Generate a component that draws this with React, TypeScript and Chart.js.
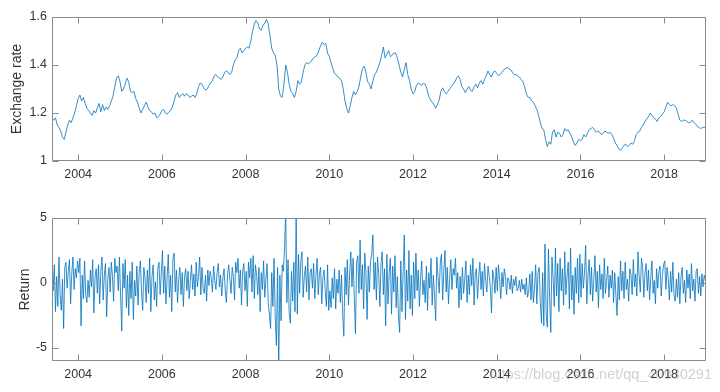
import { useEffect, useRef } from "react";
import { Chart, registerables } from "chart.js";

Chart.register(...registerables);

// ---------- data ----------
const X_MIN = 2003.375;
const X_MAX = 2019.0;

// Exchange rate, two readings per month from mid-May 2003 to end 2018
const RATE_START = 2003.375;
const RATE_STEP = 1 / 24;
const exchangeRate = [
  1.18, 1.17, 1.18, 1.15, 1.14, 1.125, 1.1, 1.09, 1.12, 1.15, 1.17, 1.16, 1.18, 1.2, 1.23,
  1.26, 1.275, 1.25, 1.265, 1.24, 1.22, 1.21, 1.2, 1.19, 1.21, 1.2, 1.22, 1.24, 1.205, 1.235, 1.21, 1.225, 1.215, 1.23, 1.25, 1.27, 1.31, 1.345, 1.355,
  1.33, 1.29, 1.3, 1.32, 1.345, 1.33, 1.29, 1.285, 1.29, 1.26, 1.245, 1.22, 1.2, 1.215, 1.23, 1.245, 1.225, 1.21, 1.205, 1.195, 1.2, 1.18, 1.185, 1.195,
  1.21, 1.215, 1.2, 1.195, 1.205, 1.21, 1.225, 1.25, 1.275, 1.285, 1.265, 1.275, 1.28, 1.27, 1.28, 1.275, 1.265, 1.27, 1.275, 1.265, 1.28, 1.31, 1.325, 1.32,
  1.305, 1.295, 1.3, 1.315, 1.325, 1.335, 1.355, 1.36, 1.35, 1.345, 1.34, 1.35, 1.37, 1.375, 1.37, 1.36, 1.37, 1.4, 1.42, 1.43, 1.46, 1.47, 1.45, 1.46,
  1.47, 1.475, 1.47, 1.5, 1.54, 1.57, 1.585, 1.575, 1.55, 1.545, 1.565, 1.575, 1.59, 1.57, 1.52, 1.47, 1.45, 1.44, 1.4, 1.3, 1.27, 1.265, 1.32, 1.4,
  1.37, 1.32, 1.29, 1.28, 1.265, 1.29, 1.335, 1.32, 1.33, 1.37, 1.4, 1.41, 1.405, 1.41, 1.42, 1.43, 1.435, 1.44, 1.46, 1.48, 1.495, 1.485, 1.49, 1.45,
  1.435, 1.41, 1.385, 1.365, 1.36, 1.35, 1.345, 1.335, 1.3, 1.25, 1.22, 1.2, 1.23, 1.265, 1.29, 1.275, 1.29, 1.31, 1.35, 1.385, 1.395, 1.37, 1.33, 1.32,
  1.3, 1.335, 1.36, 1.37, 1.39, 1.41, 1.44, 1.475, 1.43, 1.445, 1.46, 1.435, 1.44, 1.45, 1.45, 1.43, 1.4, 1.37, 1.35, 1.38, 1.41, 1.36, 1.335, 1.3,
  1.28, 1.29, 1.315, 1.325, 1.32, 1.315, 1.325, 1.32, 1.3, 1.27, 1.255, 1.245, 1.235, 1.22, 1.235, 1.255, 1.29, 1.305, 1.29, 1.28, 1.29, 1.3, 1.31, 1.32,
  1.33, 1.345, 1.355, 1.34, 1.31, 1.3, 1.285, 1.3, 1.31, 1.295, 1.29, 1.31, 1.32, 1.305, 1.325, 1.335, 1.32, 1.34, 1.355, 1.375, 1.36, 1.35, 1.37, 1.375,
  1.365, 1.355, 1.36, 1.37, 1.38, 1.385, 1.39, 1.385, 1.38, 1.37, 1.36, 1.36, 1.355, 1.35, 1.34, 1.33, 1.31, 1.28, 1.265, 1.265, 1.25, 1.245, 1.23, 1.215,
  1.19, 1.16, 1.135, 1.13, 1.09, 1.06, 1.08, 1.07, 1.12, 1.13, 1.1, 1.12, 1.115, 1.1, 1.11, 1.135, 1.125, 1.13, 1.115, 1.1, 1.08, 1.065, 1.075, 1.09,
  1.085, 1.09, 1.11, 1.1, 1.115, 1.13, 1.135, 1.14, 1.13, 1.12, 1.125, 1.12, 1.11, 1.115, 1.125, 1.12, 1.115, 1.12, 1.11, 1.095, 1.075, 1.065, 1.05, 1.045,
  1.055, 1.065, 1.07, 1.06, 1.065, 1.075, 1.07, 1.085, 1.11, 1.12, 1.125, 1.14, 1.15, 1.165, 1.175, 1.185, 1.2, 1.19, 1.18, 1.175, 1.165, 1.18, 1.185, 1.195,
  1.205, 1.225, 1.245, 1.235, 1.23, 1.235, 1.23, 1.22, 1.195, 1.17, 1.165, 1.17, 1.17, 1.165, 1.16, 1.16, 1.17, 1.16, 1.155, 1.145, 1.14, 1.135, 1.14, 1.14, 1.142,
];

// Return, 36 readings per year from mid-May 2003 to end 2018
const RETURN_START = 2003.375;
const RETURN_STEP = 1 / 36;
const returns = [
  2.1, -0.6, 1.4, -2.2, 0.5, -1.8, 2.0, -0.9, -2.1, 0.3, -3.5, 1.2, 1.6, -0.4, 0.9, 1.8, -1.6, 0.7, 2.0, -0.5, 1.1, 0.4, 1.7,
  0.8, 1.9, -3.3, 0.6, -1.2, 1.7, -0.9, -1.5, 0.2, -1.1, 1.0, -0.3, 1.8, -2.3, 0.4, 1.1, -0.8, 1.4, -1.6, 0.9, 2.0, -1.3, 0.6, 1.5, -2.6, 0.3, 1.2, -0.7, 1.6, 0.5, -1.4, 1.9, 0.8, 1.3, -0.6, 2.0,
  -1.0, -3.7, 1.5, -0.4, 1.8, -1.9, 0.6, -2.5, 0.9, -1.2, 1.6, -2.8, 0.2, -1.0, 1.3, -1.7, 0.8, 1.7, -0.6, -2.1, 1.2, 0.4, -1.5, 1.0, -0.8, 1.9, -2.2, 0.5, 1.4, -1.3, 0.1, -1.8, 1.1, 1.6, -0.9, 0.7,
  2.5, -0.8, 1.3, -1.6, 0.4, 2.2, -1.1, 0.6, -2.2, 1.8, 2.3, -0.7, 1.0, -1.5, 0.3, 1.2, -0.9, 0.8, -1.8, 0.5, 1.1, -0.6, 0.9, -1.2, 0.2, 1.4, -0.5, 0.7, -1.0, 1.6, -0.3, 0.5, 2.0, -0.9, 1.2, -0.4,
  -0.8, 0.6, -1.4, 1.0, -0.2, 0.9, 0.4, -0.7, 1.3, 0.2, -0.5, 0.8, 1.5, -0.3, 0.6, -1.0, 0.4, 1.1, -0.6, -1.5, 0.7, 1.4, 0.3, -0.8, 1.2, 0.5, -1.3, 1.6, 0.8, 1.9, -0.4, 1.0, -1.7, 0.9, 1.5, -0.6,
  0.9, -1.8, 1.6, 0.4, 1.9, -0.7, 2.1, -1.2, 1.4, 0.6, -0.9, 1.2, -2.2, 0.8, -0.5, 1.7, -1.1, 0.3, 1.5, -1.6, -2.4, -3.5, 0.8, -1.8, 1.9, -2.6, -4.8, 1.2, -6.8, 0.6, -2.9, 1.4, 0.9, 2.6, 5.6, -1.5,
  1.8, -2.3, -3.1, 0.9, -1.4, 1.6, -2.2, 5.4, -2.4, 2.2, -0.8, 1.7, 2.4, -1.1, 0.5, 1.3, -0.7, 2.0, -1.3, 0.8, 1.1, -0.4, 1.5, -1.2, 0.6, 1.9, -0.9, 0.7, 1.2, -1.6, 0.4, 1.0, -0.6, -1.8, 1.4, -2.1,
  -0.6, -1.9, 0.4, -1.2, 1.1, -2.0, 0.3, -0.8, 1.0, -1.5, 0.6, -2.3, -4.1, 1.2, -0.9, 1.8, -1.7, 0.7, 2.4, -0.3, 1.9, -1.1, -3.9, 1.6, 2.1, -0.8, 3.3, -0.5, 1.4, -2.0, 2.3, 0.8, -2.8, 1.3, -0.7, 1.7,
  2.2, 3.7, -0.5, 1.6, -1.3, 2.0, 0.7, -1.8, 1.5, 2.4, -0.9, 1.1, -3.3, 2.2, -1.6, 0.8, 1.9, -2.4, 1.3, -0.7, 2.1, -1.9, 0.5, -2.6, -3.8, 1.7, -2.2, 0.9, 3.7, -2.8, 1.0, -1.4, 2.5, -2.0, 0.6, -2.5,
  1.6, -1.2, 2.3, -0.6, 1.0, -1.8, 0.4, 1.7, -0.9, 0.2, -1.5, 1.3, -2.1, 0.8, -0.4, 1.9, -1.7, 0.6, -1.0, -2.9, 2.0, 0.5, -0.8, 1.6, 2.2, -1.3, 0.9, 2.5, -0.7, 1.2, -1.6, 0.3, 1.8, -0.5, 1.1, 0.6,
  1.9, -0.4, 0.8, -1.9, 0.5, -1.3, 1.2, -0.8, 0.3, 1.7, -1.5, 0.6, -0.9, 1.4, -0.2, 1.9, -1.7, 0.7, 1.1, -1.2, 0.4, 1.6, -0.5, 0.9, -1.0, 1.5, 0.2, -0.7, 1.3, 0.6, -0.3, -2.3, 1.0, 0.4, -0.8, 1.2,
  -0.6, 1.4, 0.3, -1.2, 0.8, -0.3, 1.1, 0.5, -0.9, 0.4, 0.2, -0.5, 0.6, -0.8, 0.3, -0.2, 0.5, -0.6, -0.4, 0.2, -0.7, 0.3, -0.5, -0.1, -0.9, 0.4, -1.1, -0.6, 0.7, -1.3, 0.9, -1.5, -0.4, 1.4, -1.6, 0.8,
  1.2, -1.5, -3.1, 0.8, -3.3, 3.0, -2.4, -3.4, 2.6, -1.2, -3.8, 2.0, 0.4, -1.8, 2.7, -1.0, 1.5, -2.2, 1.9, -0.6, 1.1, -1.7, 2.4, -0.9, 0.5, 1.6, -2.0, 2.7, -1.3, 0.6, -2.4, 1.2, -0.8, 1.9, -1.5, 2.2,
  -1.1, 1.5, -0.4, 0.8, 2.9, -1.6, 0.6, 1.8, -0.9, 1.2, -1.4, 0.3, 2.1, -0.7, 0.9, -1.9, 1.4, -0.5, 0.7, -1.2, 1.9, -0.8, 0.2, 1.3, -1.1, 0.6, -0.4, 1.0, -1.5, 0.8, -0.9, -2.5, 0.5, -1.3, 1.7, -0.6,
  0.9, -1.2, 1.6, -0.5, 0.3, -1.4, 1.1, 0.6, -0.9, 1.8, -0.3, 0.7, -1.0, 2.4, 0.5, -0.7, 1.9, 1.2, -1.1, 0.8, 1.5, -0.6, 1.0, -1.3, 0.4, 1.7, -0.8, 0.2, -1.6, 1.1, -0.4, 0.9, 1.3, -1.0, 0.6, 1.4,
  1.7, -0.5, 1.2, 0.4, -1.3, 0.9, -0.7, 1.6, -0.9, -1.4, 0.3, -1.1, 0.8, -1.6, 0.5, 1.2, -0.8, 0.2, -1.5, 1.0, -0.4, 0.7, -1.2, 1.5, -0.6, 0.3, -1.4, 0.9, 1.1, -0.8, 0.5, -1.0, 0.7, -0.3, 0.6, 0.2,
];

const yearTicks = [2004, 2006, 2008, 2010, 2012, 2014, 2016, 2018];
const rateTicks = [1, 1.2, 1.4, 1.6];
const returnTicks = [-5, 0, 5];
const rateTitle = "Exchange rate";
const returnTitle = "Return";
const watermark = "https://blog.csdn.net/qq_40930291";

// ---------- style ----------
const FONT = '"Liberation Sans", Arial, Helvetica, sans-serif';
const TEXT_COLOR = "#333333";
const AXIS_COLOR = "#8a8a8a";
const LINE_COLOR = "#0072BD";
const TICK_LEN = 6;

const frameTicks = {
  id: "frameTicks",
  afterDatasetsDraw(chart: any) {
    const { ctx, chartArea, scales } = chart;
    const L = Math.round(chartArea.left) + 0.5;
    const R = Math.round(chartArea.right) - 0.5;
    const T = Math.round(chartArea.top) + 0.5;
    const B = Math.round(chartArea.bottom) - 0.5;
    ctx.save();
    ctx.strokeStyle = AXIS_COLOR;
    ctx.lineWidth = 1;
    ctx.beginPath();
    ctx.rect(L, T, R - L, B - T);
    scales.x.ticks.forEach((t: any) => {
      const p = Math.round(scales.x.getPixelForValue(t.value)) + 0.5;
      ctx.moveTo(p, B);
      ctx.lineTo(p, B - TICK_LEN);
      ctx.moveTo(p, T);
      ctx.lineTo(p, T + TICK_LEN);
    });
    scales.y.ticks.forEach((t: any) => {
      const p = Math.round(scales.y.getPixelForValue(t.value)) + 0.5;
      ctx.moveTo(L, p);
      ctx.lineTo(L + TICK_LEN, p);
      ctx.moveTo(R, p);
      ctx.lineTo(R - TICK_LEN, p);
    });
    ctx.stroke();
    ctx.restore();
  },
};

type PanelProps = {
  values: number[];
  start: number;
  step: number;
  yMin: number;
  yMax: number;
  yTicks: number[];
  title: string;
  titlePad: number;
  padTop: number;
  xHeight: number;
};

function Panel(p: PanelProps) {
  const ref = useRef<HTMLCanvasElement>(null);
  useEffect(() => {
    const data = p.values.map((v, i) => ({ x: p.start + i * p.step, y: v }));
    const chart = new Chart(ref.current as HTMLCanvasElement, {
      type: "line",
      data: {
        datasets: [
          {
            data,
            borderColor: LINE_COLOR,
            borderWidth: 0.8,
            pointRadius: 0,
            tension: 0,
            fill: false,
          },
        ],
      },
      options: {
        responsive: false,
        animation: false,
        devicePixelRatio: 1,
        events: [],
        layout: { padding: { left: 0, right: 14, top: p.padTop, bottom: 0 } },
        plugins: { legend: { display: false }, tooltip: { enabled: false } },
        scales: {
          x: {
            type: "linear",
            min: X_MIN,
            max: X_MAX,
            grid: { display: false, drawTicks: false },
            border: { display: false },
            afterBuildTicks: (s: any) => {
              s.ticks = yearTicks.map((v) => ({ value: v }));
            },
            afterFit: (s: any) => {
              s.height = p.xHeight;
            },
            ticks: {
              autoSkip: false,
              maxRotation: 0,
              padding: 6,
              color: TEXT_COLOR,
              font: { family: FONT, size: 12.5 },
              callback: (v: any) => String(v),
            },
          },
          y: {
            type: "linear",
            min: p.yMin,
            max: p.yMax,
            grid: { display: false, drawTicks: false },
            border: { display: false },
            afterBuildTicks: (s: any) => {
              s.ticks = p.yTicks.map((v) => ({ value: v }));
            },
            afterFit: (s: any) => {
              s.width = 52;
            },
            title: {
              display: true,
              text: p.title,
              color: TEXT_COLOR,
              font: { family: FONT, size: 14 },
              padding: { top: p.titlePad, bottom: 0 },
            },
            ticks: {
              padding: 5,
              color: TEXT_COLOR,
              font: { family: FONT, size: 12.5 },
              callback: (v: any) => String(v),
            },
          },
        },
      },
      plugins: [frameTicks],
    } as any);
    return () => chart.destroy();
  }, []);
  return (
    <canvas
      ref={ref}
      width={720}
      height={196}
      style={{ display: "block", width: 720, height: 196 }}
    />
  );
}

export default function App() {
  return (
    <div
      style={{
        position: "absolute",
        left: 0,
        top: 0,
        width: 720,
        height: 392,
        background: "#ffffff",
        overflow: "hidden",
      }}
    >
      <Panel
        values={exchangeRate}
        start={RATE_START}
        step={RATE_STEP}
        yMin={1}
        yMax={1.6}
        yTicks={rateTicks}
        title={rateTitle}
        titlePad={9}
        padTop={17}
        xHeight={35}
      />
      <Panel
        values={returns}
        start={RETURN_START}
        step={RETURN_STEP}
        yMin={-6}
        yMax={5}
        yTicks={returnTicks}
        title={returnTitle}
        titlePad={17}
        padTop={22}
        xHeight={31}
      />
      <div
        style={{
          position: "absolute",
          right: 8,
          top: 366,
          fontFamily: FONT,
          fontSize: 14.5,
          color: "rgba(150,150,150,0.45)",
          whiteSpace: "nowrap",
          pointerEvents: "none",
        }}
      >
        {watermark}
      </div>
    </div>
  );
}
